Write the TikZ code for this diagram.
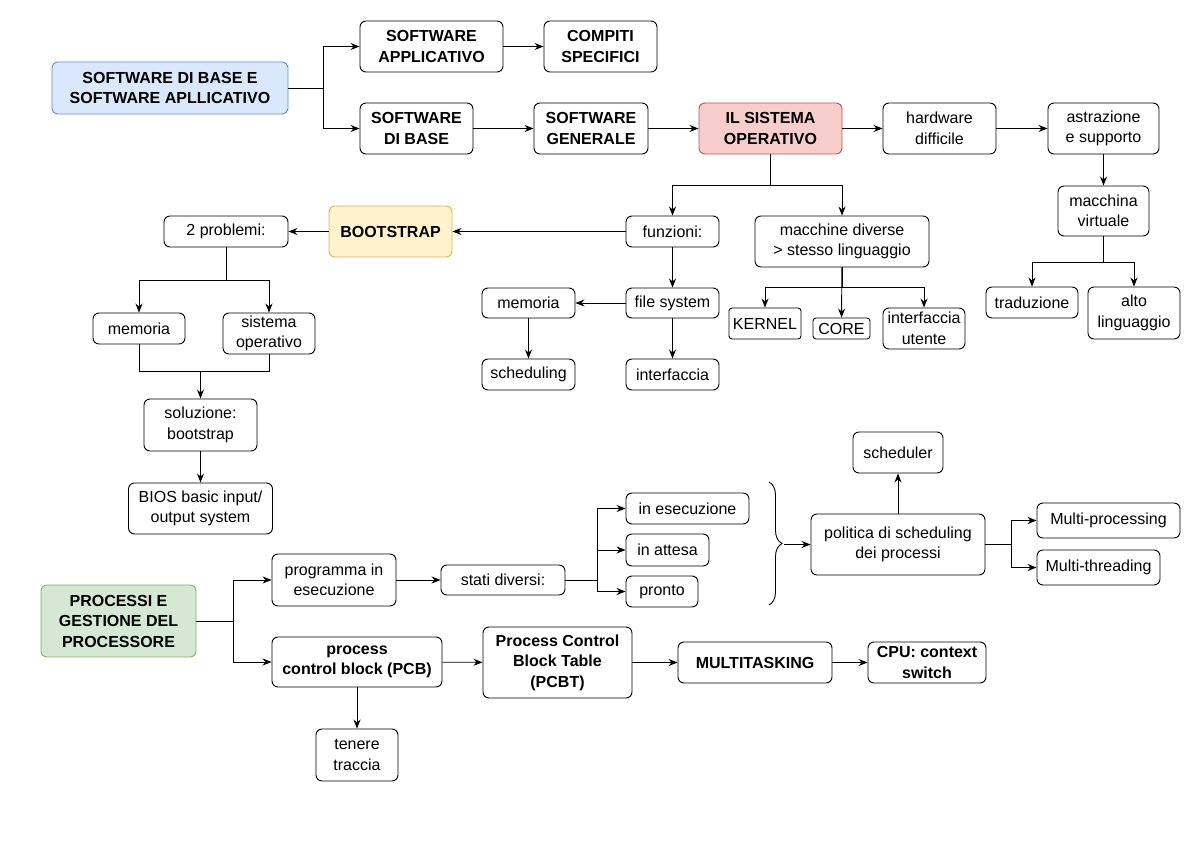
\documentclass[tikz,border=0pt]{standalone}
\usepackage{fontspec}
\setmainfont{Liberation Sans}
\usepackage{tikz}
\usetikzlibrary{arrows.meta}
\usetikzlibrary{decorations.pathreplacing}
\definecolor{blueFill}{HTML}{DAE8FC}
\definecolor{blueLine}{HTML}{6C8EBF}
\definecolor{redFill}{HTML}{F8CECC}
\definecolor{redLine}{HTML}{B85450}
\definecolor{yellowFill}{HTML}{FFF2CC}
\definecolor{yellowLine}{HTML}{D6B656}
\definecolor{greenFill}{HTML}{D5E8D4}
\definecolor{greenLine}{HTML}{82B366}

\begin{document}
\begin{tikzpicture}[x=1pt, y=-1pt, line width=0.9pt,
        >={Stealth[length=9pt, width=7pt]},
        box/.style={draw, rounded corners=6pt, align=center, inner sep=2pt,
            font=\fontsize{16}{20.5}\selectfont},
        bbox/.style={box, font=\bfseries\fontsize{16}{20.5}\selectfont},
        wh/.style 2 args={minimum width=#1pt, minimum height=#2pt}]
        \useasboundingbox (0,0) rectangle (1200,853);

        % Top row: software
        \node[bbox, wh={236}{52}, fill=blueFill, draw=blueLine] (swroot) at (170,88) {SOFTWARE DI BASE E\\SOFTWARE APLLICATIVO};
        \node[bbox, wh={143}{51}] (swapp) at (431.5,46.5) {SOFTWARE\\APPLICATIVO};
        \node[bbox, wh={113}{51}] (compiti) at (600.5,46.5) {COMPITI\\SPECIFICI};
        \node[bbox, wh={113}{51}] (swbase) at (416.5,128.5) {SOFTWARE\\DI BASE};
        \node[bbox, wh={114}{51}] (swgen) at (591,128.5) {SOFTWARE\\GENERALE};
        \node[bbox, wh={143}{51}, fill=redFill, draw=redLine] (sisop) at (770.5,128.5) {IL SISTEMA\\OPERATIVO};
        \node[box, wh={113}{51}] (hw) at (939.5,128.5) {hardware\\difficile};
        \node[box, wh={111}{51}] (astr) at (1103.5,128.5) {astrazione\\e supporto};

        \draw[->] (swroot.east) -- ++(35,0) |- (swapp.west);
        \draw[->] (swroot.east) -- ++(35,0) |- (swbase.west);
        \draw[->] (swapp) -- (compiti);
        \draw[->] (swbase) -- (swgen);
        \draw[->] (swgen) -- (sisop);
        \draw[->] (sisop) -- (hw);
        \draw[->] (hw) -- (astr);

        % Macchina virtuale
        \node[box, wh={91}{50}] (virt) at (1103.5,211) {macchina\\virtuale};
        \node[box, wh={92}{31}] (trad) at (1032,302.5) {traduzione};
        \node[box, wh={92}{52}] (alto) at (1134,313) {alto\\linguaggio};
        \draw[->] (astr) -- (virt);
        \draw[->] (virt.south) -- ++(0,26) -| (trad.north);
        \draw[->] (virt.south) -- ++(0,26) -| (alto.north);

        % Funzioni del sistema operativo
        \node[box, wh={93}{31}] (funz) at (672.5,231.5) {funzioni:};
        \node[box, wh={174}{51}] (macch) at (842,241.5) {macchine diverse\\> stesso linguaggio};
        \draw[->] (sisop.south) -- ++(0,31) -| (funz.north);
        \draw[->] (sisop.south) -- ++(0,31) -| (macch.north);

        \node[box, wh={72}{31}, rounded corners=3pt] (kernel) at (765,323.5) {KERNEL};
        \node[box, wh={57}{21}, inner sep=1pt, rounded corners=3pt] (core) at (841.5,328.5) {CORE};
        \node[box, wh={82}{41}, inner sep=1pt] (intut) at (924,328.5) {interfaccia\\utente};
        \draw[->] (macch.south) -- ++(0,20) -| (kernel.north);
        \draw[->] (macch) -- (core);
        \draw[->] (macch.south) -- ++(0,20) -| (intut.north);

        \node[box, wh={93}{30}] (fs) at (672.5,303) {file system};
        \node[box, wh={93}{30}] (memr) at (528.5,303) {memoria};
        \node[box, wh={93}{31}] (sched) at (528.5,374.5) {scheduling};
        \node[box, wh={93}{31}] (interf) at (672.5,374.5) {interfaccia};
        \draw[->] (funz) -- (fs);
        \draw[->] (fs) -- (memr);
        \draw[->] (memr) -- (sched);
        \draw[->] (fs) -- (interf);

        % Bootstrap
        \node[bbox, wh={123}{51}, fill=yellowFill, draw=yellowLine] (boot) at (390.5,231.5) {BOOTSTRAP};
        \node[box, wh={124}{31}] (probl) at (226,231.5) {2 problemi:};
        \node[box, wh={92}{31}] (meml) at (139,328.5) {memoria};
        \node[box, wh={92}{41}] (sisol) at (269,333.5) {sistema\\operativo};
        \node[box, wh={113}{52}] (soluz) at (200.5,425) {soluzione:\\bootstrap};
        \node[box, wh={144}{51}] (bios) at (200.5,508.5) {BIOS basic input/\\output system};
        \coordinate (merge) at (200.5,371);
        \draw[->] (funz) -- (boot);
        \draw[->] (boot) -- (probl);
        \draw[->] (probl.south) -- ++(0,33) -| (meml.north);
        \draw[->] (probl.south) -- ++(0,33) -| (sisol.north);
        \draw (meml.south) |- (merge);
        \draw (sisol.south) |- (merge);
        \draw[->] (merge) -- (soluz.north);
        \draw[->] (soluz) -- (bios);

        % Processi
        \node[bbox, wh={155}{72}, fill=greenFill, draw=greenLine] (proc) at (118.5,621) {PROCESSI E\\GESTIONE DEL\\PROCESSORE};
        \node[box, wh={124}{52}] (prog) at (334,580) {programma in\\esecuzione};
        \node[box, wh={124}{30}] (stati) at (503,580) {stati diversi:};
        \node[box, wh={123}{31}] (esec) at (687.5,508.5) {in esecuzione};
        \node[box, wh={83}{32}] (attesa) at (667.5,550) {in attesa};
        \node[box, wh={72}{31}] (pronto) at (662,591.5) {pronto};
        \draw[->] (proc.east) -- ++(37,0) |- (prog.west);
        \draw[->] (prog) -- (stati);
        \draw[->] (stati.east) -- ++(32,0) |- (esec.west);
        \draw[->] (stati.east) -- ++(32,0) |- (attesa.west);
        \draw[->] (stati.east) -- ++(32,0) |- (pronto.west);

        % Scheduling
        \draw[decorate, decoration={brace, amplitude=13pt}] (769,482) -- (769,605);
        \coordinate (btip) at (784,544.5);
        \node[box, wh={174}{61}] (polit) at (898,544.5) {politica di scheduling\\dei processi};
        \node[box, wh={90}{41}] (scheduler) at (898,452.5) {scheduler};
        \node[box, wh={143}{35}] (mproc) at (1108.5,520.5) {Multi-processing};
        \node[box, wh={123}{35}] (mthr) at (1098.5,567.5) {Multi-threading};
        \draw[->] (btip) -- (polit.west);
        \draw[->] (polit) -- (scheduler);
        \draw[->] (polit.east) -- ++(26,0) |- (mproc.west);
        \draw[->] (polit.east) -- ++(26,0) |- (mthr.west);

        % PCB
        \node[bbox, wh={170}{50}] (pcb) at (357,662) {process\\control block (PCB)};
        \node[bbox, wh={149}{71}] (pcbt) at (557.5,662.5) {Process Control\\Block Table\\(PCBT)};
        \node[bbox, wh={154}{41}] (multi) at (755,662.5) {MULTITASKING};
        \node[bbox, wh={118}{41}] (cpu) at (927,662.5) {CPU: context\\switch};
        \node[box, wh={82}{52}] (tenere) at (357,755) {tenere\\traccia};
        \draw[->] (proc.east) -- ++(37,0) |- (pcb.west);
        \draw[->] (pcb) -- (pcbt);
        \draw[->] (pcbt) -- (multi);
        \draw[->] (multi) -- (cpu);
        \draw[->] (pcb) -- (tenere);

    \end{tikzpicture}
\end{document}
